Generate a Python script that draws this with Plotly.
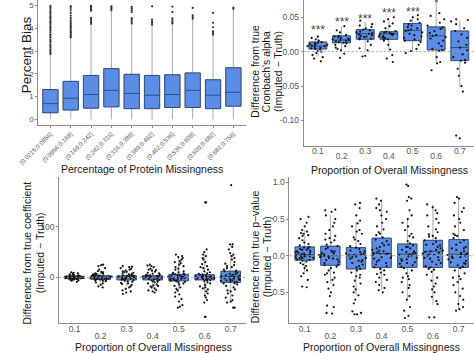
import plotly.graph_objects as go

W, H = 474, 353
def fx(px): return px / W
def fy(py): return 1 - py / H

# ---------------- DATA ----------------
# Panel A: Percent bias by protein missingness bin
a_cats = ["[0.0215,0.0956]", "(0.0956,0.169]", "(0.169,0.242]", "(0.242,0.316]", "(0.316,0.389]",
          "(0.389,0.462]", "(0.462,0.536]", "(0.536,0.609]", "(0.609,0.682]", "(0.682,0.756]"]
a_q1 = [0.29, 0.41, 0.49, 0.55, 0.47, 0.47, 0.52, 0.52, 0.47, 0.58]
a_med = [0.69, 0.93, 1.09, 1.28, 1.14, 1.06, 1.09, 1.28, 1.06, 1.19]
a_q3 = [1.31, 1.67, 1.93, 2.23, 1.98, 1.93, 1.96, 2.04, 1.74, 2.27]
a_lo = [0, 0, 0, 0, 0, 0, 0, 0, 0, 0]
a_hi = [2.83, 3.57, 4.15, 4.75, 4.2, 4.15, 4.2, 4.4, 3.7, 4.85]
a_out = [
    [2.87, 2.93, 3.01, 3.08, 3.16, 3.23, 3.3, 3.39, 3.45, 3.52, 3.61, 3.68, 3.74, 3.83, 3.9, 3.97,
     4.04, 4.1, 4.19, 4.26, 4.32, 4.41, 4.48, 4.54, 4.63, 4.7, 4.76, 4.85, 4.92, 4.99],
    [3.6, 3.66, 3.73, 3.8, 3.86, 3.93, 4.01, 4.07, 4.14, 4.2, 4.28, 4.36, 4.45, 4.56, 4.68, 4.8, 4.9, 4.98],
    [4.2, 4.26, 4.33, 4.41, 4.47, 4.78, 4.84, 4.9, 4.96, 4.99],
    [4.8, 4.86, 4.92, 4.97],
    [4.22, 4.3, 4.38, 4.45, 4.72, 4.8, 4.88, 4.95],
    [4.17, 4.24, 4.31, 4.39, 4.97],
    [4.22, 4.28, 4.36, 4.44, 4.72, 4.96],
    [4.43, 4.5, 4.58, 4.9],
    [3.73, 3.8, 3.87, 4.05, 4.25, 4.68],
    [4.86, 4.92],
]

# Panel B: Cronbach's alpha difference by overall missingness
prop_labels = ["0.1", "0.2", "0.3", "0.4", "0.5", "0.6", "0.7"]
b_q1 = [0.004, 0.013, 0.018, 0.018, 0.016, 0.0025, -0.013]
b_med = [0.008, 0.017, 0.026, 0.026, 0.031, 0.023, 0.006]
b_q3 = [0.014, 0.023, 0.032, 0.029, 0.041, 0.036, 0.030]
b_lo = [-0.007, 0.002, 0.002, 0.002, 0.0, -0.016, -0.052]
b_hi = [0.023, 0.037, 0.044, 0.045, 0.052, 0.073, 0.045]
b_stars = ["***", "***", "***", "***", "***", "*"]
b_star_y = [0.036, 0.047, 0.052, 0.060, 0.062, 0.0745]
b_pts = [
    [0.022, 0.02, 0.018, 0.016, 0.014, 0.013, 0.012, 0.011, 0.010, 0.010, 0.009, 0.008, 0.008,
     0.007, 0.006, 0.005, 0.004, 0.003, 0.001, 0.0, -0.002, -0.005, -0.008, -0.010, -0.014],
    [0.037, 0.031, 0.028, 0.024, 0.023, 0.022, 0.021, 0.020, 0.019, 0.018, 0.017, 0.017, 0.016,
     0.015, 0.014, 0.013, 0.012, 0.010, 0.008, 0.006, 0.004, 0.002, -0.003, -0.009],
    [0.045, 0.040, 0.038, 0.036, 0.034, 0.032, 0.031, 0.029, 0.028, 0.027, 0.026, 0.025, 0.024,
     0.023, 0.022, 0.021, 0.020, 0.019, 0.018, 0.015, 0.010, 0.005, 0.002, -0.006, -0.007],
    [0.050, 0.047, 0.044, 0.041, 0.037, 0.034, 0.030, 0.029, 0.028, 0.027, 0.026, 0.026, 0.025,
     0.024, 0.023, 0.022, 0.021, 0.020, 0.019, 0.018, 0.016, 0.010, 0.003, -0.005, -0.010, -0.015],
    [0.053, 0.050, 0.047, 0.045, 0.042, 0.040, 0.038, 0.036, 0.034, 0.032, 0.031, 0.030, 0.028,
     0.026, 0.024, 0.022, 0.020, 0.018, 0.016, 0.014, 0.010, 0.004, 0.001, -0.002],
    [0.056, 0.052, 0.047, 0.042, 0.038, 0.035, 0.033, 0.030, 0.027, 0.024, 0.023, 0.021, 0.019,
     0.016, 0.012, 0.008, 0.004, 0.002, 0.001, -0.008, -0.015, -0.017, -0.027],
    [0.047, 0.046, 0.044, 0.040, 0.034, 0.030, 0.025, 0.020, 0.015, 0.010, 0.006, 0.002, -0.004,
     -0.008, -0.012, -0.013, -0.016, -0.025, -0.035, -0.050, -0.058, -0.122, -0.126],
]

# Panel C: coefficient difference
c_q1 = [-2, -4, -5, -5, -7, -5, -10]
c_med = [0, 0, 0, 0, 0, 0, 2]
c_q3 = [2, 3, 3, 3, 6, 5, 12]
c_lo = [-6, -12, -18, -20, -30, -40, -48]
c_hi = [6, 12, 15, 18, 40, 45, 45]
c_pts = [
    [10, 8, 7, 6, 5, 4, 3.5, 3, 2.5, 2, 2, 1.5, 1.2, 1, 0.8, 0.5, 0.3, 0.2, 0, 0, -0.2, -0.4, -0.6,
     -0.8, -1, -1.2, -1.5, -1.8, -2, -2.3, -2.6, -3, -3.3, -3.8, -4.5, -5, -6, -7, -9, 9, 1.8, -1.1,
     0.6, -0.5, 2.7, -2.8, 4.3, -3.6],
    [25, 22, 18, 15, 12, 10, 9, 8, 7, 6, 5, 4.5, 4, 3.5, 3, 2.5, 2, 1.5, 1, 0.5, 0, -0.5, -1, -1.5,
     -2, -2.5, -3, -3.5, -4, -4.5, -5, -6, -7, -8, -10, -12, -15, -18, -20, 1.2, -1.2, 2.8, -2.8,
     0.3, -0.3, 6.5, -6.5, 11, 24],
    [22, 20, 18, 15, 13, 11, 10, 9, 8, 7, 6, 5, 4, 3.5, 3, 2, 1.5, 1, 0.5, 0, -0.5, -1, -1.5, -2, -3,
     -4, -5, -6, -7, -8, -9, -11, -13, -15, -18, -20, -23, -26, -30, -33, 2.5, -2.5, 0.2, -0.2, 12,
     -12, 17, -28, 21],
    [25, 22, 20, 17, 15, 13, 11, 9, 8, 7, 6, 5, 4, 3.5, 3, 2, 1.5, 1, 0.5, 0, -0.5, -1, -1.5, -2, -3,
     -4, -5, -6, -7, -8, -9, -10, -12, -14, -16, -18, -20, -22, -25, -28, -30, 2.5, -2.5, 0.3, -0.3,
     14, -17, 23, -26],
    [45, 42, 40, 38, 35, 32, 28, 25, 22, 20, 17, 15, 12, 10, 8, 7, 6, 5, 4, 3, 2, 1, 0.5, 0, -0.5, -1,
     -2, -3, -4, -5, -6, -7, -8, -10, -12, -14, -17, -20, -23, -26, -30, -34, -38, -43, -48, -55, -58,
     -60, 3.5, -3.5, 1.5, -1.5, 9, -9, 30],
    [148, 148, 55, 50, 45, 42, 38, 35, 30, 26, 22, 18, 15, 12, 10, 8, 7, 5, 4, 3, 2, 1, 0.5, 0, -0.5,
     -1, -2, -3, -4, -5, -6, -8, -10, -12, -15, -18, -20, -24, -28, -32, -36, -40, -45, -50, -78, -78,
     2.5, -2.5, 1.5, -1.5, 6, -6, 20, -22],
    [182, 65, 65, 60, 55, 48, 45, 42, 38, 35, 30, 27, 24, 20, 18, 15, 13, 11, 9, 7, 5, 4, 3, 2, 1, 0,
     -1, -2, -3, -4, -5, -6, -7, -8, -9, -10, -12, -14, -17, -20, -24, -28, -32, -36, -40, -45, -48,
     -50, -60, -60, 12, -12, 6, -6, 2.5, -2.5, 0.5, 22, -26],
]

# Panel D: p-value difference
d_q1 = [-0.06, -0.13, -0.18, -0.16, -0.16, -0.16, -0.16]
d_med = [0.01, 0.0, 0.01, 0.03, 0.02, 0.06, 0.02]
d_q3 = [0.12, 0.13, 0.11, 0.24, 0.16, 0.21, 0.22]
d_lo = [-0.22, -0.38, -0.54, -0.47, -0.58, -0.67, -0.73]
d_hi = [0.35, 0.55, 0.46, 0.77, 0.52, 0.70, 0.80]
d_pts = [
    [0.53, 0.50, 0.45, 0.40, 0.35, 0.33, 0.30, 0.27, 0.24, 0.21, 0.18, 0.16, 0.14, 0.12, 0.11, 0.10,
     0.09, 0.08, 0.07, 0.06, 0.05, 0.04, 0.03, 0.02, 0.01, 0.01, 0.0, 0.0, -0.01, -0.01, -0.02, -0.03,
     -0.03, -0.04, -0.05, -0.06, -0.07, -0.08, -0.10, -0.12, -0.14, -0.17, -0.20, -0.24, -0.28, -0.33,
     -0.42, -0.43, 0.02, -0.02, 0.05, 0.08, 0.28, 0.31],
    [0.63, 0.62, 0.60, 0.55, 0.50, 0.45, 0.40, 0.35, 0.30, 0.27, 0.24, 0.21, 0.18, 0.15, 0.13, 0.11,
     0.09, 0.07, 0.05, 0.04, 0.03, 0.02, 0.01, 0.0, -0.01, -0.02, -0.03, -0.05, -0.06, -0.08, -0.10,
     -0.12, -0.13, -0.15, -0.17, -0.20, -0.23, -0.26, -0.30, -0.33, -0.36, -0.40, -0.45, -0.50, -0.55,
     -0.68, -0.70, -0.78, -0.79, 0.01, -0.01, 0.06, -0.04, 0.22, -0.24],
    [0.72, 0.70, 0.65, 0.55, 0.48, 0.44, 0.40, 0.35, 0.30, 0.25, 0.20, 0.16, 0.13, 0.11, 0.09, 0.07,
     0.05, 0.03, 0.02, 0.01, 0.0, -0.01, -0.02, -0.04, -0.06, -0.08, -0.10, -0.12, -0.14, -0.16, -0.18,
     -0.20, -0.23, -0.26, -0.30, -0.34, -0.38, -0.42, -0.46, -0.50, -0.54, -0.60, -0.65, -0.76, -0.78,
     -0.80, -0.80, 0.03, -0.03, 0.06, -0.07, 0.22, -0.28, 0.33],
    [0.78, 0.75, 0.70, 0.65, 0.60, 0.55, 0.50, 0.45, 0.40, 0.36, 0.32, 0.28, 0.25, 0.22, 0.20, 0.17,
     0.14, 0.12, 0.10, 0.08, 0.06, 0.05, 0.04, 0.03, 0.02, 0.01, 0.0, -0.02, -0.04, -0.06, -0.08, -0.10,
     -0.12, -0.14, -0.16, -0.18, -0.20, -0.23, -0.26, -0.30, -0.33, -0.36, -0.40, -0.44, -0.47, -0.50,
     0.03, -0.03, 0.07, 0.15, 0.30, -0.25, 0.62],
    [0.97, 0.95, 0.80, 0.78, 0.75, 0.62, 0.55, 0.50, 0.45, 0.40, 0.35, 0.30, 0.25, 0.20, 0.17, 0.14,
     0.12, 0.10, 0.08, 0.06, 0.04, 0.03, 0.02, 0.01, 0.0, -0.01, -0.03, -0.05, -0.07, -0.09, -0.11,
     -0.13, -0.15, -0.17, -0.20, -0.24, -0.28, -0.32, -0.36, -0.40, -0.44, -0.50, -0.55, -0.60, -0.70,
     -0.75, -0.82, -0.85, 0.05, -0.05, 0.12, -0.10, 0.27, -0.30],
    [0.70, 0.66, 0.62, 0.58, 0.55, 0.50, 0.45, 0.40, 0.36, 0.32, 0.29, 0.27, 0.24, 0.21, 0.19, 0.16,
     0.14, 0.12, 0.10, 0.08, 0.06, 0.05, 0.04, 0.02, 0.01, 0.0, -0.02, -0.04, -0.06, -0.08, -0.10,
     -0.12, -0.14, -0.16, -0.19, -0.22, -0.26, -0.30, -0.34, -0.38, -0.42, -0.46, -0.50, -0.56, -0.62,
     -0.66, -0.84, -0.84, 0.07, 0.03, -0.03, 0.15, -0.18, 0.26],
    [0.80, 0.78, 0.72, 0.65, 0.60, 0.55, 0.50, 0.45, 0.40, 0.35, 0.30, 0.27, 0.24, 0.21, 0.18, 0.15,
     0.12, 0.10, 0.08, 0.06, 0.04, 0.03, 0.02, 0.01, 0.0, -0.01, -0.03, -0.05, -0.07, -0.09, -0.11,
     -0.13, -0.15, -0.17, -0.20, -0.24, -0.28, -0.32, -0.36, -0.40, -0.45, -0.50, -0.55, -0.60, -0.66,
     -0.70, -0.73, -0.75, 0.02, -0.02, 0.10, -0.10, 0.28, -0.30],
]

# ---------------- STYLE ----------------
FONT = "Liberation Sans, Arial, sans-serif"
FILL = "#5b8de6"
EDGE = "#2f4f82"
WHISK = "#a8a8a8"
AXC = "#8c8c8c"
TICKC = "#555555"
PT = "#111111"

fig = go.Figure()

def add_boxes(xa, ya, q1, med, q3, lo, hi):
    pos = list(range(len(q1)))
    fig.add_trace(go.Box(x=pos, q1=q1, median=med, q3=q3, lowerfence=lo, upperfence=hi,
                         xaxis=xa, yaxis=ya, width=0.75, whiskerwidth=0, boxpoints=False,
                         fillcolor="rgba(0,0,0,0)", line=dict(color=WHISK, width=1),
                         hoverinfo="skip", showlegend=False))
    fig.add_trace(go.Box(x=pos, q1=q1, median=med, q3=q3, lowerfence=q1, upperfence=q3,
                         xaxis=xa, yaxis=ya, width=0.75, whiskerwidth=0, boxpoints=False,
                         fillcolor=FILL, line=dict(color=EDGE, width=1),
                         hoverinfo="skip", showlegend=False))

def add_points(xa, ya, groups, size=2.2):
    xs, ys = [], []
    for i, g in enumerate(groups):
        xs += [i] * len(g)
        ys += g
    fig.add_trace(go.Box(x=xs, y=ys, xaxis=xa, yaxis=ya, boxpoints="all", jitter=1, pointpos=0,
                         width=0.9, whiskerwidth=0, fillcolor="rgba(0,0,0,0)",
                         line=dict(color="rgba(0,0,0,0)", width=0),
                         marker=dict(color=PT, size=size), hoverinfo="skip", showlegend=False))

# Panel A
add_boxes("x", "y", a_q1, a_med, a_q3, a_lo, a_hi)
ox, oy = [], []
for i, g in enumerate(a_out):
    ox += [i] * len(g)
    oy += g
fig.add_trace(go.Scatter(x=ox, y=oy, xaxis="x", yaxis="y", mode="markers",
                         marker=dict(color="#333333", size=2.2), hoverinfo="skip", showlegend=False))

# Panel B
add_boxes("x2", "y2", b_q1, b_med, b_q3, b_lo, b_hi)
add_points("x2", "y2", b_pts)
for i, (s, yv) in enumerate(zip(b_stars, b_star_y)):
    fig.add_annotation(x=i, y=yv, xref="x2", yref="y2", text=s, showarrow=False, yshift=-3,
                       xanchor="center", yanchor="middle",
                       font=dict(family=FONT, size=12, color="#444444"))

# Panel C
add_boxes("x3", "y3", c_q1, c_med, c_q3, c_lo, c_hi)
add_points("x3", "y3", c_pts)

# Panel D
add_boxes("x4", "y4", d_q1, d_med, d_q3, d_lo, d_hi)
add_points("x4", "y4", d_pts)

# empty traces for overlay label axes
for xa, ya in (("x5", "y2"), ("x6", "y3"), ("x7", "y4")):
    fig.add_trace(go.Scatter(x=[], y=[], xaxis=xa, yaxis=ya, showlegend=False))

axbase = dict(showline=True, linecolor=AXC, linewidth=1, ticks="outside", ticklen=2, tickcolor=AXC,
              tickwidth=1, showgrid=False, zeroline=False, fixedrange=True,
              tickfont=dict(family=FONT, size=8.5, color=TICKC))

odd_text = [t if i % 2 == 0 else "" for i, t in enumerate(prop_labels)]
even_vals = [i for i in range(7) if i % 2 == 1]
even_text = [prop_labels[i] for i in even_vals]

layout = dict(
    width=W, height=H, margin=dict(l=0, r=0, t=0, b=0),
    paper_bgcolor="white", plot_bgcolor="white", showlegend=False, boxmode="overlay",
    font=dict(family=FONT, color=TICKC),
    xaxis=dict(axbase, domain=[fx(19), fx(235.5)], range=[-0.6, 9.6], anchor="y",
               tickvals=list(range(10)), ticktext=a_cats, tickangle=-45, ticklabeloverflow="allow",
               tickfont=dict(family=FONT, size=6.2, color=TICKC)),
    yaxis=dict(axbase, domain=[fy(125), 1], range=[-0.25, 5.25], anchor="x",
               tickvals=[0, 1, 2, 3, 4, 5], ticktext=["0", "1", "2", "3", "4", "5"],
               tickfont=dict(family=FONT, size=8, color=TICKC)),
    xaxis2=dict(axbase, domain=[fx(296.2), 1], range=[-0.6, 6.6], anchor="y2", ticks="",
                tickvals=list(range(7)), ticktext=odd_text, ticklabelstandoff=-3),
    yaxis2=dict(axbase, domain=[fy(146), 1], range=[-0.1371, 0.0751], anchor="x2",
                tickvals=[-0.10, -0.05, 0.0, 0.05], ticktext=["-0.10", "-0.05", "0.00", "0.05"]),
    xaxis3=dict(axbase, domain=[fx(40.8), fx(236.3)], range=[-0.6, 6.6], anchor="y3", ticks="",
                tickvals=list(range(7)), ticktext=odd_text, ticklabelstandoff=-2),
    yaxis3=dict(axbase, domain=[fy(323), fy(177)], range=[-90.3, 198.2], anchor="x3",
                tickvals=[0, 100], ticktext=["0", "100"]),
    xaxis4=dict(axbase, domain=[fx(281.2), 1], range=[-0.6, 6.6], anchor="y4", ticks="",
                tickvals=list(range(7)), ticktext=odd_text, ticklabelstandoff=-2),
    yaxis4=dict(axbase, domain=[fy(323), fy(177)], range=[-0.918, 1.074], anchor="x4",
                tickvals=[-0.5, 0.0, 0.5, 1.0], ticktext=["-0.5", "0.0", "0.5", "1.0"]),
)
for n, base, so in ((5, 2, 3), (6, 3, 6), (7, 4, 6)):
    layout["xaxis%d" % n] = dict(overlaying="x%d" % base, anchor="y%d" % base, range=[-0.6, 6.6],
                                 showline=False, ticks="", showgrid=False, zeroline=False,
                                 tickvals=even_vals, ticktext=even_text, ticklabelstandoff=so,
                                 tickfont=dict(family=FONT, size=8.5, color=TICKC), fixedrange=True)
fig.update_layout(**layout)

# zero reference lines
for xa, ya in (("x2", "y2"), ("x3", "y3"), ("x4", "y4")):
    fig.add_shape(type="line", xref=xa + " domain", yref=ya, x0=0, x1=1, y0=0, y1=0,
                  line=dict(color="#a0a0a0", width=1, dash="2px,2px"), layer="above")

# axis titles
def title(text, px, py, size, angle=0):
    fig.add_annotation(text=text, xref="paper", yref="paper", x=fx(px), y=fy(py), showarrow=False,
                       xanchor="center", yanchor="middle", textangle=angle,
                       font=dict(family=FONT, size=size, color="#1a1a1a"))

title("Percent Bias", 7.5, 55, 13.5, -90)
title("Percentage of Protein Missingness", 127.8, 169, 10.5)
title("Difference from true", 245, 71, 10.5, -90)
title("Cronbach's alpha", 257.3, 71, 10.5, -90)
title("(Imputed − Truth)", 269.3, 71, 10.5, -90)
title("Proportion of Overall Missingness", 385.3, 169.5, 10.5)
title("Difference from true coefficient", 7.3, 252.5, 10.5, -90)
title("(Imputed − Truth)", 20.7, 252.5, 10.5, -90)
title("Proportion of Overall Missingness", 139, 347.3, 10.5)
title("Difference from true p−value", 245, 256.7, 10.5, -90)
title("(Imputed − Truth)", 257.3, 256.7, 10.5, -90)
title("Proportion of Overall Missingness", 377.5, 347, 10.5)

fig.write_html("out.html")
